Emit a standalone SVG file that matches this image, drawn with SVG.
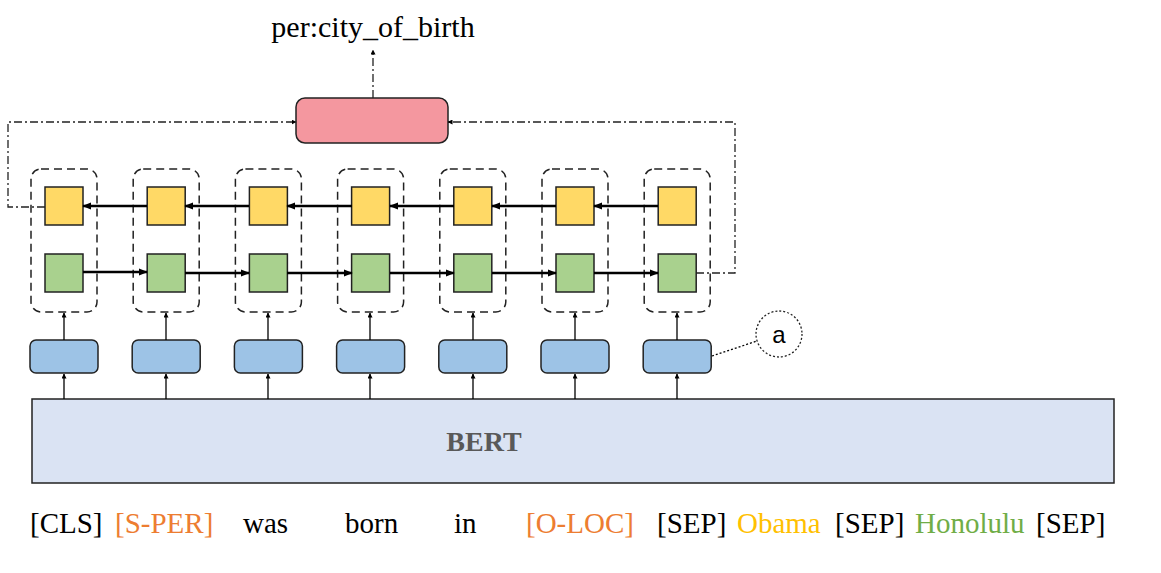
<svg xmlns="http://www.w3.org/2000/svg" width="1161" height="573" viewBox="0 0 1161 573">
<style>
.dash{fill:none;stroke:#222;stroke-width:1.5;stroke-dasharray:8,5}
.y{fill:#ffd966;stroke:#222;stroke-width:1.5}
.g{fill:#a9d18e;stroke:#222;stroke-width:1.5}
.b{fill:#9dc3e6;stroke:#222;stroke-width:1.5}
.a{stroke:#000;stroke-width:2.5;fill:none}
.s{stroke:#000;stroke-width:1.3;fill:none}
.dd{stroke:#222;stroke-width:1.3;fill:none;stroke-dasharray:8,3,2,3}
</style>
<defs>
<marker id="ah" viewBox="0 0 10 10" refX="9" refY="5" markerWidth="5" markerHeight="5" orient="auto" markerUnits="userSpaceOnUse"><path d="M0,0L10,5L0,10z" fill="#000"/></marker>
<marker id="ab" viewBox="0 0 10 10" refX="9" refY="5" markerWidth="9" markerHeight="9" orient="auto" markerUnits="userSpaceOnUse"><path d="M0,1L10,5L0,9z" fill="#000"/></marker>
</defs>
<rect width="1161" height="573" fill="#fff"/>
<text x="373" y="37" font-family="'Liberation Serif','Times New Roman',serif" font-size="30" text-anchor="middle">per:city_of_birth</text>
<g id="out"><rect x="296" y="98" width="152" height="45" rx="9" fill="#f4979f" stroke="#222" stroke-width="1.5"/></g>
<g id="bert"><rect x="32" y="399" width="1082" height="84" fill="#dae3f3" stroke="#222" stroke-width="1.5"/>
<text x="484" y="451" font-family="'Liberation Serif',serif" font-size="28" font-weight="bold" fill="#595959" text-anchor="middle">BERT</text></g>
<g id="cols">
<g id="c0" transform="translate(0,0)"><rect class="dash" x="31" y="169" width="66" height="143" rx="10"/><rect class="y" x="45" y="187" width="38" height="38"/><rect class="g" x="45" y="254" width="38" height="38"/><rect class="b" x="30" y="340" width="68" height="33" rx="6"/></g>
<g id="c1" transform="translate(102.2,0)"><rect class="dash" x="31" y="169" width="66" height="143" rx="10"/><rect class="y" x="45" y="187" width="38" height="38"/><rect class="g" x="45" y="254" width="38" height="38"/><rect class="b" x="30" y="340" width="68" height="33" rx="6"/></g>
<g id="c2" transform="translate(204.4,0)"><rect class="dash" x="31" y="169" width="66" height="143" rx="10"/><rect class="y" x="45" y="187" width="38" height="38"/><rect class="g" x="45" y="254" width="38" height="38"/><rect class="b" x="30" y="340" width="68" height="33" rx="6"/></g>
<g id="c3" transform="translate(306.6,0)"><rect class="dash" x="31" y="169" width="66" height="143" rx="10"/><rect class="y" x="45" y="187" width="38" height="38"/><rect class="g" x="45" y="254" width="38" height="38"/><rect class="b" x="30" y="340" width="68" height="33" rx="6"/></g>
<g id="c4" transform="translate(408.8,0)"><rect class="dash" x="31" y="169" width="66" height="143" rx="10"/><rect class="y" x="45" y="187" width="38" height="38"/><rect class="g" x="45" y="254" width="38" height="38"/><rect class="b" x="30" y="340" width="68" height="33" rx="6"/></g>
<g id="c5" transform="translate(511,0)"><rect class="dash" x="31" y="169" width="66" height="143" rx="10"/><rect class="y" x="45" y="187" width="38" height="38"/><rect class="g" x="45" y="254" width="38" height="38"/><rect class="b" x="30" y="340" width="68" height="33" rx="6"/></g>
<g id="c6" transform="translate(613.2,0)"><rect class="dash" x="31" y="169" width="66" height="143" rx="10"/><rect class="y" x="45" y="187" width="38" height="38"/><rect class="g" x="45" y="254" width="38" height="38"/><rect class="b" x="30" y="340" width="68" height="33" rx="6"/></g>
</g>
<g id="circle"><circle cx="779" cy="334" r="23" fill="#fff" stroke="#222" stroke-width="1.3" stroke-dasharray="2,2"/><text x="779" y="343" font-family="Liberation Sans,sans-serif" font-size="24" text-anchor="middle">a</text></g>
<g id="connectors">
<path class="s" d="M712,356L757,341" stroke-dasharray="2,2"/>
<path class="dd" d="M373,98V50" marker-end="url(#ah)"/>
<path class="dd" d="M45,207H8V122H296" marker-end="url(#ah)"/>
<path class="dd" d="M696,273H735V122H448" marker-end="url(#ah)"/>
<g class="a">
<path d="M147,206H83" marker-end="url(#ab)"/><path d="M249,206H185" marker-end="url(#ab)"/><path d="M352,206H287" marker-end="url(#ab)"/><path d="M454,206H390" marker-end="url(#ab)"/><path d="M556,206H492" marker-end="url(#ab)"/><path d="M658,206H594" marker-end="url(#ab)"/>
<path d="M83,272H147" marker-end="url(#ab)"/><path d="M185,273H249" marker-end="url(#ab)"/><path d="M287,273H352" marker-end="url(#ab)"/><path d="M390,273H454" marker-end="url(#ab)"/><path d="M492,273H556" marker-end="url(#ab)"/><path d="M594,273H658" marker-end="url(#ab)"/>
</g>
<g class="s">
<path d="M64,340V313" marker-end="url(#ah)"/><path d="M166,340V313" marker-end="url(#ah)"/><path d="M268,340V313" marker-end="url(#ah)"/><path d="M370,340V313" marker-end="url(#ah)"/><path d="M473,340V313" marker-end="url(#ah)"/><path d="M575,340V313" marker-end="url(#ah)"/><path d="M677,340V313" marker-end="url(#ah)"/>
<path d="M64,399V374" marker-end="url(#ah)"/><path d="M166,399V374" marker-end="url(#ah)"/><path d="M268,399V374" marker-end="url(#ah)"/><path d="M370,399V374" marker-end="url(#ah)"/><path d="M473,399V374" marker-end="url(#ah)"/><path d="M575,399V374" marker-end="url(#ah)"/><path d="M677,399V374" marker-end="url(#ah)"/>
</g>
</g>
<g font-family="'Liberation Serif','Times New Roman',serif" font-size="29">
<text x="30" y="533">[CLS]</text>
<text x="115" y="533" fill="#ed7d31">[S-PER]</text>
<text x="243" y="533">was</text>
<text x="345" y="533">born</text>
<text x="454" y="533">in</text>
<text x="526" y="533" fill="#ed7d31">[O-LOC]</text>
<text x="657" y="533">[SEP]</text>
<text x="737" y="533" fill="#ffc000">Obama</text>
<text x="835" y="533">[SEP]</text>
<text x="915" y="533" fill="#70ad47">Honolulu</text>
<text x="1036" y="533">[SEP]</text>
</g>
</svg>
